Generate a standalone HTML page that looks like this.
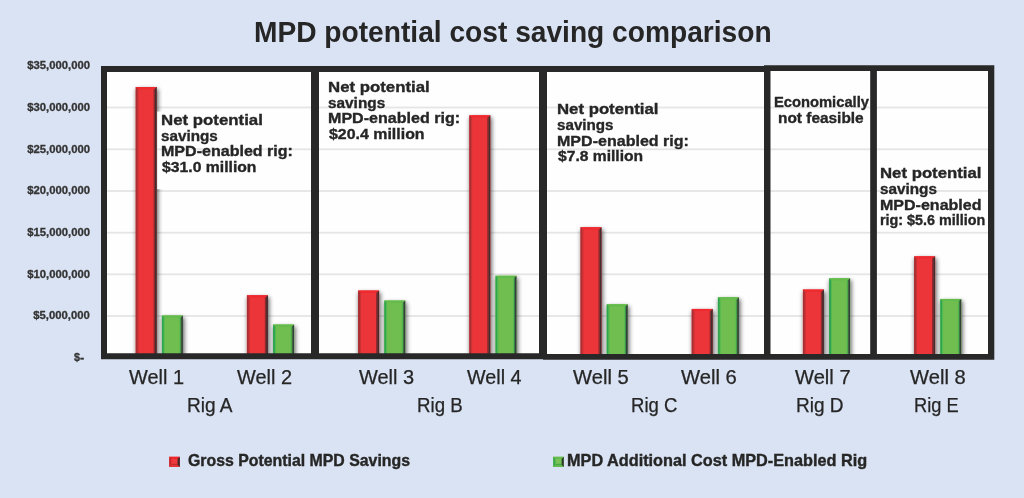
<!DOCTYPE html>
<html><head><meta charset="utf-8"><title>MPD potential cost saving comparison</title>
<style>
html,body{margin:0;padding:0;}
body{width:1024px;height:498px;background:#dae3f3;position:relative;overflow:hidden;font-family:"Liberation Sans",Arial,sans-serif;}
.t{position:absolute;white-space:nowrap;}
</style></head><body>
<svg width="1024" height="498" viewBox="0 0 1024 498" style="position:absolute;left:0;top:0">
<defs>
<filter id="sh" x="-50%" y="-20%" width="200%" height="140%">
<feGaussianBlur in="SourceAlpha" stdDeviation="2.6 2"/>
<feOffset dx="0.6" dy="1.8" result="b"/>
<feComponentTransfer><feFuncA type="linear" slope="0.7"/></feComponentTransfer>
<feMerge><feMergeNode/><feMergeNode in="SourceGraphic"/></feMerge>
</filter>
<clipPath id="pc"><rect x="101" y="60" width="893" height="297"/></clipPath>
</defs>
<rect x="101" y="66" width="893" height="293" fill="#fefefe"/>
<rect x="104" y="106.60" width="888" height="1.8" fill="#e5e5e5"/>
<rect x="104" y="148.40" width="888" height="1.8" fill="#e5e5e5"/>
<rect x="104" y="190.10" width="888" height="1.8" fill="#e5e5e5"/>
<rect x="104" y="231.80" width="888" height="1.8" fill="#e5e5e5"/>
<rect x="104" y="273.40" width="888" height="1.8" fill="#e5e5e5"/>
<rect x="104" y="315.10" width="888" height="1.8" fill="#e5e5e5"/>
<g clip-path="url(#pc)">
<g filter="url(#sh)"><rect x="135.72" y="87.00" width="21.0" height="269.00" fill="#ec3538"/></g><polygon points="135.72,87.00 156.72,87.00 154.52,89.20 137.92,89.20" fill="#ef292e"/><polygon points="135.72,87.00 137.62,88.90 137.62,356 135.72,356" fill="#a83034"/><polygon points="137.62,88.90 138.62,89.20 138.62,356 137.62,356" fill="#c83236"/><polygon points="153.62,89.20 154.92,88.80 154.92,356 153.62,356" fill="#8e2a2e"/><polygon points="154.92,88.80 156.72,87.00 156.72,356 154.92,356" fill="#402e31"/>
<g filter="url(#sh)"><rect x="161.90" y="315.40" width="21.0" height="40.60" fill="#70be50"/></g><polygon points="161.90,315.40 182.90,315.40 180.70,317.60 164.10,317.60" fill="#62bb4a"/><polygon points="161.90,315.40 163.80,317.30 163.80,356 161.90,356" fill="#2da551"/><polygon points="163.80,317.30 164.80,317.60 164.80,356 163.80,356" fill="#55ba4e"/><polygon points="179.50,317.60 180.50,317.60 180.50,356 179.50,356" fill="#52b94f"/><polygon points="180.50,317.60 181.20,317.10 181.20,356 180.50,356" fill="#2e7d48"/><polygon points="181.20,317.10 182.90,315.40 182.90,356 181.20,356" fill="#34403a"/>
<g filter="url(#sh)"><rect x="246.92" y="295.20" width="21.0" height="60.80" fill="#ec3538"/></g><polygon points="246.92,295.20 267.92,295.20 265.72,297.40 249.12,297.40" fill="#ef292e"/><polygon points="246.92,295.20 248.82,297.10 248.82,356 246.92,356" fill="#a83034"/><polygon points="248.82,297.10 249.82,297.40 249.82,356 248.82,356" fill="#c83236"/><polygon points="264.82,297.40 266.12,297.00 266.12,356 264.82,356" fill="#8e2a2e"/><polygon points="266.12,297.00 267.92,295.20 267.92,356 266.12,356" fill="#402e31"/>
<g filter="url(#sh)"><rect x="273.10" y="324.50" width="21.0" height="31.50" fill="#70be50"/></g><polygon points="273.10,324.50 294.10,324.50 291.90,326.70 275.30,326.70" fill="#62bb4a"/><polygon points="273.10,324.50 275.00,326.40 275.00,356 273.10,356" fill="#2da551"/><polygon points="275.00,326.40 276.00,326.70 276.00,356 275.00,356" fill="#55ba4e"/><polygon points="290.70,326.70 291.70,326.70 291.70,356 290.70,356" fill="#52b94f"/><polygon points="291.70,326.70 292.40,326.20 292.40,356 291.70,356" fill="#2e7d48"/><polygon points="292.40,326.20 294.10,324.50 294.10,356 292.40,356" fill="#34403a"/>
<g filter="url(#sh)"><rect x="358.12" y="290.50" width="21.0" height="65.50" fill="#ec3538"/></g><polygon points="358.12,290.50 379.12,290.50 376.92,292.70 360.32,292.70" fill="#ef292e"/><polygon points="358.12,290.50 360.02,292.40 360.02,356 358.12,356" fill="#a83034"/><polygon points="360.02,292.40 361.02,292.70 361.02,356 360.02,356" fill="#c83236"/><polygon points="376.02,292.70 377.32,292.30 377.32,356 376.02,356" fill="#8e2a2e"/><polygon points="377.32,292.30 379.12,290.50 379.12,356 377.32,356" fill="#402e31"/>
<g filter="url(#sh)"><rect x="384.30" y="300.50" width="21.0" height="55.50" fill="#70be50"/></g><polygon points="384.30,300.50 405.30,300.50 403.10,302.70 386.50,302.70" fill="#62bb4a"/><polygon points="384.30,300.50 386.20,302.40 386.20,356 384.30,356" fill="#2da551"/><polygon points="386.20,302.40 387.20,302.70 387.20,356 386.20,356" fill="#55ba4e"/><polygon points="401.90,302.70 402.90,302.70 402.90,356 401.90,356" fill="#52b94f"/><polygon points="402.90,302.70 403.60,302.20 403.60,356 402.90,356" fill="#2e7d48"/><polygon points="403.60,302.20 405.30,300.50 405.30,356 403.60,356" fill="#34403a"/>
<g filter="url(#sh)"><rect x="469.32" y="115.30" width="21.0" height="240.70" fill="#ec3538"/></g><polygon points="469.32,115.30 490.32,115.30 488.12,117.50 471.52,117.50" fill="#ef292e"/><polygon points="469.32,115.30 471.22,117.20 471.22,356 469.32,356" fill="#a83034"/><polygon points="471.22,117.20 472.22,117.50 472.22,356 471.22,356" fill="#c83236"/><polygon points="487.22,117.50 488.52,117.10 488.52,356 487.22,356" fill="#8e2a2e"/><polygon points="488.52,117.10 490.32,115.30 490.32,356 488.52,356" fill="#402e31"/>
<g filter="url(#sh)"><rect x="495.50" y="275.70" width="21.0" height="80.30" fill="#70be50"/></g><polygon points="495.50,275.70 516.50,275.70 514.30,277.90 497.70,277.90" fill="#62bb4a"/><polygon points="495.50,275.70 497.40,277.60 497.40,356 495.50,356" fill="#2da551"/><polygon points="497.40,277.60 498.40,277.90 498.40,356 497.40,356" fill="#55ba4e"/><polygon points="513.10,277.90 514.10,277.90 514.10,356 513.10,356" fill="#52b94f"/><polygon points="514.10,277.90 514.80,277.40 514.80,356 514.10,356" fill="#2e7d48"/><polygon points="514.80,277.40 516.50,275.70 516.50,356 514.80,356" fill="#34403a"/>
<g filter="url(#sh)"><rect x="580.52" y="227.20" width="21.0" height="128.80" fill="#ec3538"/></g><polygon points="580.52,227.20 601.52,227.20 599.32,229.40 582.72,229.40" fill="#ef292e"/><polygon points="580.52,227.20 582.42,229.10 582.42,356 580.52,356" fill="#a83034"/><polygon points="582.42,229.10 583.42,229.40 583.42,356 582.42,356" fill="#c83236"/><polygon points="598.42,229.40 599.72,229.00 599.72,356 598.42,356" fill="#8e2a2e"/><polygon points="599.72,229.00 601.52,227.20 601.52,356 599.72,356" fill="#402e31"/>
<g filter="url(#sh)"><rect x="606.70" y="304.20" width="21.0" height="51.80" fill="#70be50"/></g><polygon points="606.70,304.20 627.70,304.20 625.50,306.40 608.90,306.40" fill="#62bb4a"/><polygon points="606.70,304.20 608.60,306.10 608.60,356 606.70,356" fill="#2da551"/><polygon points="608.60,306.10 609.60,306.40 609.60,356 608.60,356" fill="#55ba4e"/><polygon points="624.30,306.40 625.30,306.40 625.30,356 624.30,356" fill="#52b94f"/><polygon points="625.30,306.40 626.00,305.90 626.00,356 625.30,356" fill="#2e7d48"/><polygon points="626.00,305.90 627.70,304.20 627.70,356 626.00,356" fill="#34403a"/>
<g filter="url(#sh)"><rect x="691.72" y="308.90" width="21.0" height="47.10" fill="#ec3538"/></g><polygon points="691.72,308.90 712.72,308.90 710.52,311.10 693.92,311.10" fill="#ef292e"/><polygon points="691.72,308.90 693.62,310.80 693.62,356 691.72,356" fill="#a83034"/><polygon points="693.62,310.80 694.62,311.10 694.62,356 693.62,356" fill="#c83236"/><polygon points="709.62,311.10 710.92,310.70 710.92,356 709.62,356" fill="#8e2a2e"/><polygon points="710.92,310.70 712.72,308.90 712.72,356 710.92,356" fill="#402e31"/>
<g filter="url(#sh)"><rect x="717.90" y="297.20" width="21.0" height="58.80" fill="#70be50"/></g><polygon points="717.90,297.20 738.90,297.20 736.70,299.40 720.10,299.40" fill="#62bb4a"/><polygon points="717.90,297.20 719.80,299.10 719.80,356 717.90,356" fill="#2da551"/><polygon points="719.80,299.10 720.80,299.40 720.80,356 719.80,356" fill="#55ba4e"/><polygon points="735.50,299.40 736.50,299.40 736.50,356 735.50,356" fill="#52b94f"/><polygon points="736.50,299.40 737.20,298.90 737.20,356 736.50,356" fill="#2e7d48"/><polygon points="737.20,298.90 738.90,297.20 738.90,356 737.20,356" fill="#34403a"/>
<g filter="url(#sh)"><rect x="802.92" y="289.50" width="21.0" height="66.50" fill="#ec3538"/></g><polygon points="802.92,289.50 823.92,289.50 821.72,291.70 805.12,291.70" fill="#ef292e"/><polygon points="802.92,289.50 804.82,291.40 804.82,356 802.92,356" fill="#a83034"/><polygon points="804.82,291.40 805.82,291.70 805.82,356 804.82,356" fill="#c83236"/><polygon points="820.82,291.70 822.12,291.30 822.12,356 820.82,356" fill="#8e2a2e"/><polygon points="822.12,291.30 823.92,289.50 823.92,356 822.12,356" fill="#402e31"/>
<g filter="url(#sh)"><rect x="829.10" y="278.30" width="21.0" height="77.70" fill="#70be50"/></g><polygon points="829.10,278.30 850.10,278.30 847.90,280.50 831.30,280.50" fill="#62bb4a"/><polygon points="829.10,278.30 831.00,280.20 831.00,356 829.10,356" fill="#2da551"/><polygon points="831.00,280.20 832.00,280.50 832.00,356 831.00,356" fill="#55ba4e"/><polygon points="846.70,280.50 847.70,280.50 847.70,356 846.70,356" fill="#52b94f"/><polygon points="847.70,280.50 848.40,280.00 848.40,356 847.70,356" fill="#2e7d48"/><polygon points="848.40,280.00 850.10,278.30 850.10,356 848.40,356" fill="#34403a"/>
<g filter="url(#sh)"><rect x="914.12" y="256.30" width="21.0" height="99.70" fill="#ec3538"/></g><polygon points="914.12,256.30 935.12,256.30 932.92,258.50 916.32,258.50" fill="#ef292e"/><polygon points="914.12,256.30 916.02,258.20 916.02,356 914.12,356" fill="#a83034"/><polygon points="916.02,258.20 917.02,258.50 917.02,356 916.02,356" fill="#c83236"/><polygon points="932.02,258.50 933.32,258.10 933.32,356 932.02,356" fill="#8e2a2e"/><polygon points="933.32,258.10 935.12,256.30 935.12,356 933.32,356" fill="#402e31"/>
<g filter="url(#sh)"><rect x="940.30" y="298.90" width="21.0" height="57.10" fill="#70be50"/></g><polygon points="940.30,298.90 961.30,298.90 959.10,301.10 942.50,301.10" fill="#62bb4a"/><polygon points="940.30,298.90 942.20,300.80 942.20,356 940.30,356" fill="#2da551"/><polygon points="942.20,300.80 943.20,301.10 943.20,356 942.20,356" fill="#55ba4e"/><polygon points="957.90,301.10 958.90,301.10 958.90,356 957.90,356" fill="#52b94f"/><polygon points="958.90,301.10 959.60,300.60 959.60,356 958.90,356" fill="#2e7d48"/><polygon points="959.60,300.60 961.30,298.90 961.30,356 959.60,356" fill="#34403a"/>
</g>
<rect x="157.2" y="111.5" width="8" height="77.5" fill="#fefefe"/>
<rect x="157.2" y="148.3" width="8" height="2" fill="#e4e4e4"/>
<path d="M101,66 L764,66 L764,65.3 L994.3,65.3 L994.3,359.8 L543,359.8 L543,359.2 L101,359.2 Z M107,72.1 L311,72.1 L311,353.2 L107,353.2 Z M319,72.1 L539,72.1 L539,353.2 L319,353.2 Z M547,72.1 L764,72.1 L764,354 L547,354 Z M770.5,71.1 L870.2,71.1 L870.2,354 L770.5,354 Z M876.9,71.1 L988,71.1 L988,354 L876.9,354 Z" fill="#282828" fill-rule="evenodd"/>
<rect x="169.2" y="456.8" width="10.6" height="10.1" fill="#ee3a3e"/><polygon points="169.2,456.8 179.79999999999998,456.8 177.6,459.0 171.39999999999998,459.0" fill="#ee262c"/><polygon points="169.2,456.8 171.39999999999998,459.0 171.39999999999998,464.70000000000005 169.2,466.90000000000003" fill="#c8282d"/><polygon points="169.2,466.90000000000003 171.39999999999998,464.70000000000005 177.6,464.70000000000005 179.79999999999998,466.90000000000003" fill="#e3363a"/><rect x="171.39999999999998" y="463.90000000000003" width="6.199999999999999" height="0.8" fill="#b32629"/><polygon points="179.79999999999998,456.8 179.79999999999998,466.90000000000003 177.6,464.70000000000005 177.6,459.0" fill="#3b2626"/>
<rect x="553.2" y="456.8" width="10.6" height="10.1" fill="#78c356"/><polygon points="553.2,456.8 563.8000000000001,456.8 561.6,459.0 555.4000000000001,459.0" fill="#66bd4c"/><polygon points="553.2,456.8 555.4000000000001,459.0 555.4000000000001,464.70000000000005 553.2,466.90000000000003" fill="#3aab4a"/><polygon points="553.2,466.90000000000003 555.4000000000001,464.70000000000005 561.6,464.70000000000005 563.8000000000001,466.90000000000003" fill="#62ba4a"/><rect x="555.4000000000001" y="463.90000000000003" width="6.199999999999999" height="0.8" fill="#3a9c48"/><polygon points="563.8000000000001,456.8 563.8000000000001,466.90000000000003 561.6,464.70000000000005 561.6,459.0" fill="#2c3c2e"/>
</svg>
<div class="t" style="left:253.53px;transform:scaleX(0.9843);transform-origin:0 0;top:17.69px;font-size:28.6px;line-height:28.6px;font-weight:bold;color:#262626;">MPD potential cost saving comparison</div>
<div class="t" style="left:27.20px;top:60.28px;font-size:11.3px;line-height:11.3px;font-weight:bold;color:#333333;-webkit-text-stroke:0.3px #333333;">$35,000,000</div>
<div class="t" style="left:27.20px;top:101.98px;font-size:11.3px;line-height:11.3px;font-weight:bold;color:#333333;-webkit-text-stroke:0.3px #333333;">$30,000,000</div>
<div class="t" style="left:27.20px;top:143.78px;font-size:11.3px;line-height:11.3px;font-weight:bold;color:#333333;-webkit-text-stroke:0.3px #333333;">$25,000,000</div>
<div class="t" style="left:27.20px;top:185.48px;font-size:11.3px;line-height:11.3px;font-weight:bold;color:#333333;-webkit-text-stroke:0.3px #333333;">$20,000,000</div>
<div class="t" style="left:27.20px;top:227.18px;font-size:11.3px;line-height:11.3px;font-weight:bold;color:#333333;-webkit-text-stroke:0.3px #333333;">$15,000,000</div>
<div class="t" style="left:27.20px;top:268.78px;font-size:11.3px;line-height:11.3px;font-weight:bold;color:#333333;-webkit-text-stroke:0.3px #333333;">$10,000,000</div>
<div class="t" style="left:33.20px;top:310.48px;font-size:11.3px;line-height:11.3px;font-weight:bold;color:#333333;-webkit-text-stroke:0.3px #333333;">$5,000,000</div>
<div class="t" style="left:73.60px;transform:scaleX(0.9500);transform-origin:0 0;top:351.73px;font-size:11.3px;line-height:11.3px;font-weight:bold;color:#333333;-webkit-text-stroke:0.3px #333333;">$</div>
<div class="t" style="left:80.20px;transform:scaleX(1.1333);transform-origin:0 0;top:351.73px;font-size:11.3px;line-height:11.3px;font-weight:bold;color:#333333;-webkit-text-stroke:0.3px #333333;">-</div>
<div class="t" style="left:129.40px;transform:scaleX(1.0327);transform-origin:0 0;top:367.76px;font-size:19.3px;line-height:19.3px;font-weight:normal;color:#262626;-webkit-text-stroke:0.25px #262626;">Well 1</div>
<div class="t" style="left:237.00px;transform:scaleX(1.0346);transform-origin:0 0;top:367.76px;font-size:19.3px;line-height:19.3px;font-weight:normal;color:#262626;-webkit-text-stroke:0.25px #262626;">Well 2</div>
<div class="t" style="left:358.70px;transform:scaleX(1.0365);transform-origin:0 0;top:367.76px;font-size:19.3px;line-height:19.3px;font-weight:normal;color:#262626;-webkit-text-stroke:0.25px #262626;">Well 3</div>
<div class="t" style="left:466.50px;transform:scaleX(1.0245);transform-origin:0 0;top:367.76px;font-size:19.3px;line-height:19.3px;font-weight:normal;color:#262626;-webkit-text-stroke:0.25px #262626;">Well 4</div>
<div class="t" style="left:573.10px;transform:scaleX(1.0462);transform-origin:0 0;top:367.76px;font-size:19.3px;line-height:19.3px;font-weight:normal;color:#262626;-webkit-text-stroke:0.25px #262626;">Well 5</div>
<div class="t" style="left:680.70px;transform:scaleX(1.0500);transform-origin:0 0;top:367.76px;font-size:19.3px;line-height:19.3px;font-weight:normal;color:#262626;-webkit-text-stroke:0.25px #262626;">Well 6</div>
<div class="t" style="left:795.30px;transform:scaleX(1.0442);transform-origin:0 0;top:367.76px;font-size:19.3px;line-height:19.3px;font-weight:normal;color:#262626;-webkit-text-stroke:0.25px #262626;">Well 7</div>
<div class="t" style="left:909.80px;transform:scaleX(1.0462);transform-origin:0 0;top:367.76px;font-size:19.3px;line-height:19.3px;font-weight:normal;color:#262626;-webkit-text-stroke:0.25px #262626;">Well 8</div>
<div class="t" style="left:187.01px;transform:scaleX(0.9889);transform-origin:0 0;top:395.86px;font-size:19.3px;line-height:19.3px;font-weight:normal;color:#262626;-webkit-text-stroke:0.25px #262626;">Rig A</div>
<div class="t" style="left:416.73px;transform:scaleX(0.9689);transform-origin:0 0;top:395.86px;font-size:19.3px;line-height:19.3px;font-weight:normal;color:#262626;-webkit-text-stroke:0.25px #262626;">Rig B</div>
<div class="t" style="left:631.04px;transform:scaleX(0.9609);transform-origin:0 0;top:395.86px;font-size:19.3px;line-height:19.3px;font-weight:normal;color:#262626;-webkit-text-stroke:0.25px #262626;">Rig C</div>
<div class="t" style="left:795.81px;transform:scaleX(0.9870);transform-origin:0 0;top:395.86px;font-size:19.3px;line-height:19.3px;font-weight:normal;color:#262626;-webkit-text-stroke:0.25px #262626;">Rig D</div>
<div class="t" style="left:913.85px;transform:scaleX(0.9467);transform-origin:0 0;top:395.86px;font-size:19.3px;line-height:19.3px;font-weight:normal;color:#262626;-webkit-text-stroke:0.25px #262626;">Rig E</div>
<div class="t" style="left:187.54px;transform:scaleX(0.9554);transform-origin:0 0;top:452.85px;font-size:16.6px;line-height:16.6px;font-weight:bold;color:#262626;-webkit-text-stroke:0.4px #262626;">Gross Potential MPD Savings</div>
<div class="t" style="left:567.22px;transform:scaleX(0.9796);transform-origin:0 0;top:452.85px;font-size:16.6px;line-height:16.6px;font-weight:bold;color:#262626;-webkit-text-stroke:0.4px #262626;">MPD Additional Cost MPD-Enabled Rig</div>
<div class="t" style="left:160.68px;transform:scaleX(1.1213);transform-origin:0 0;top:112.10px;font-size:15.0px;line-height:15.0px;font-weight:bold;color:#262626;-webkit-text-stroke:0.35px #262626;">Net potential</div>
<div class="t" style="left:160.80px;transform:scaleX(1.0164);transform-origin:0 0;top:127.65px;font-size:15.0px;line-height:15.0px;font-weight:bold;color:#262626;-webkit-text-stroke:0.35px #262626;">savings</div>
<div class="t" style="left:160.80px;transform:scaleX(1.0697);transform-origin:0 0;top:143.20px;font-size:15.0px;line-height:15.0px;font-weight:bold;color:#262626;-webkit-text-stroke:0.35px #262626;">MPD-enabled rig:</div>
<div class="t" style="left:161.80px;transform:scaleX(1.0494);transform-origin:0 0;top:158.75px;font-size:15.0px;line-height:15.0px;font-weight:bold;color:#262626;-webkit-text-stroke:0.35px #262626;">$31.0 million</div>
<div class="t" style="left:327.58px;transform:scaleX(1.1202);transform-origin:0 0;top:79.20px;font-size:15.0px;line-height:15.0px;font-weight:bold;color:#262626;-webkit-text-stroke:0.35px #262626;">Net potential</div>
<div class="t" style="left:327.70px;transform:scaleX(1.0236);transform-origin:0 0;top:94.80px;font-size:15.0px;line-height:15.0px;font-weight:bold;color:#262626;-webkit-text-stroke:0.35px #262626;">savings</div>
<div class="t" style="left:327.70px;transform:scaleX(1.0705);transform-origin:0 0;top:110.40px;font-size:15.0px;line-height:15.0px;font-weight:bold;color:#262626;-webkit-text-stroke:0.35px #262626;">MPD-enabled rig:</div>
<div class="t" style="left:328.70px;transform:scaleX(1.0618);transform-origin:0 0;top:126.00px;font-size:15.0px;line-height:15.0px;font-weight:bold;color:#262626;-webkit-text-stroke:0.35px #262626;">$20.4 million</div>
<div class="t" style="left:556.68px;transform:scaleX(1.1169);transform-origin:0 0;top:101.40px;font-size:15.0px;line-height:15.0px;font-weight:bold;color:#262626;-webkit-text-stroke:0.35px #262626;">Net potential</div>
<div class="t" style="left:556.80px;transform:scaleX(1.0127);transform-origin:0 0;top:116.97px;font-size:15.0px;line-height:15.0px;font-weight:bold;color:#262626;-webkit-text-stroke:0.35px #262626;">savings</div>
<div class="t" style="left:556.80px;transform:scaleX(1.0697);transform-origin:0 0;top:132.54px;font-size:15.0px;line-height:15.0px;font-weight:bold;color:#262626;-webkit-text-stroke:0.35px #262626;">MPD-enabled rig:</div>
<div class="t" style="left:557.80px;transform:scaleX(1.0420);transform-origin:0 0;top:148.11px;font-size:15.0px;line-height:15.0px;font-weight:bold;color:#262626;-webkit-text-stroke:0.35px #262626;">$7.8 million</div>
<div class="t" style="left:773.52px;transform:scaleX(0.9821);transform-origin:0 0;top:93.90px;font-size:15.0px;line-height:15.0px;font-weight:bold;color:#262626;-webkit-text-stroke:0.35px #262626;">Economically</div>
<div class="t" style="left:777.97px;transform:scaleX(1.0280);transform-origin:0 0;top:109.70px;font-size:15.0px;line-height:15.0px;font-weight:bold;color:#262626;-webkit-text-stroke:0.35px #262626;">not feasible</div>
<div class="t" style="left:879.88px;transform:scaleX(1.1169);transform-origin:0 0;top:165.40px;font-size:15.0px;line-height:15.0px;font-weight:bold;color:#262626;-webkit-text-stroke:0.35px #262626;">Net potential</div>
<div class="t" style="left:880.00px;transform:scaleX(1.0182);transform-origin:0 0;top:181.07px;font-size:15.0px;line-height:15.0px;font-weight:bold;color:#262626;-webkit-text-stroke:0.35px #262626;">savings</div>
<div class="t" style="left:880.00px;transform:scaleX(1.0681);transform-origin:0 0;top:196.74px;font-size:15.0px;line-height:15.0px;font-weight:bold;color:#262626;-webkit-text-stroke:0.35px #262626;">MPD-enabled</div>
<div class="t" style="left:880.00px;transform:scaleX(0.9560);transform-origin:0 0;top:212.41px;font-size:15.0px;line-height:15.0px;font-weight:bold;color:#262626;-webkit-text-stroke:0.35px #262626;">rig: $5.6 million</div>
</body></html>
